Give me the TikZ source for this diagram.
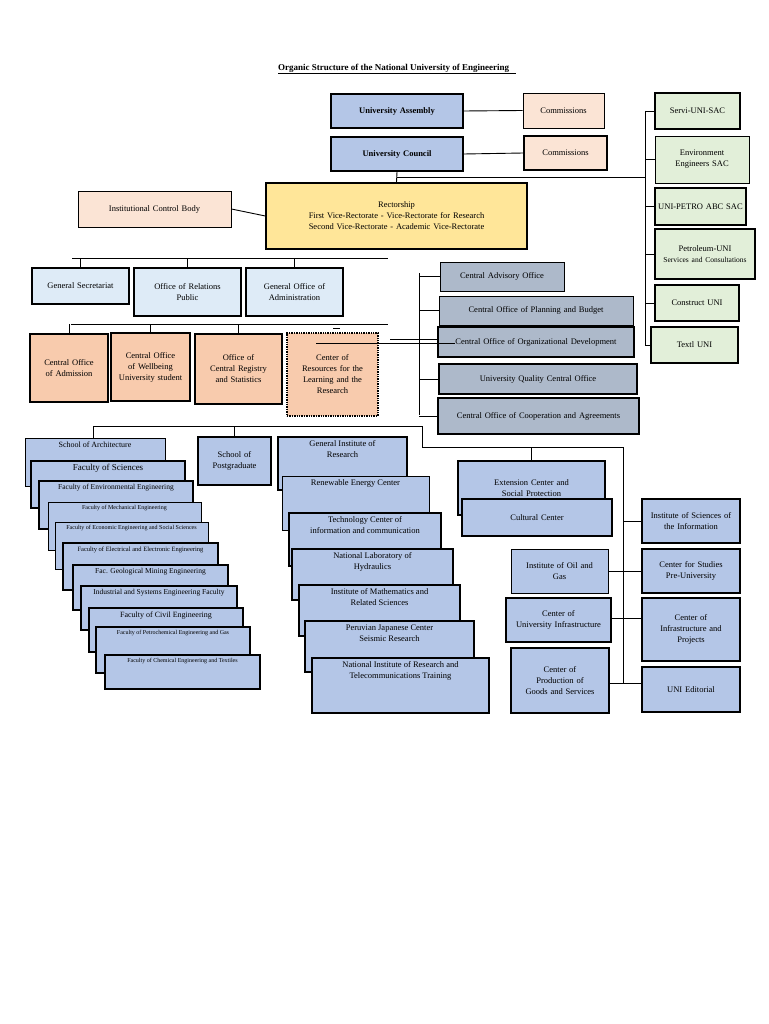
\documentclass[tikz,border=0pt]{standalone}
\usepackage{fontspec}
\setmainfont{Liberation Serif}
\usepackage{xcolor}
\usepackage{tikz}

\definecolor{blueA}{HTML}{B4C6E7}
\definecolor{blueL}{HTML}{DEEBF7}
\definecolor{peach}{HTML}{FBE4D5}
\definecolor{orng}{HTML}{F8CBAD}
\definecolor{yell}{HTML}{FFE699}
\definecolor{grn}{HTML}{E2EFD9}
\definecolor{gry}{HTML}{ADB9CA}

\tikzset{
  box/.style={draw=black,line width=1.4pt,rectangle,inner sep=1pt,align=center,
    font=\fontsize{8.5}{11}\selectfont},
  thin box/.style={line width=0.9pt},
  link/.style={line width=0.9pt},
  small/.style={font=\fontsize{7}{9}\selectfont},
}

% box from pixel corners (x1,y1) to (x2,y2)
\newcommand\ubox[7][]{%
  \pgfmathsetmacro\bw{#5-#3}\pgfmathsetmacro\bh{#6-#4}\pgfmathsetmacro\tw{#5-#3-4}%
  \node[box,#1,minimum width=\bw pt,minimum height=\bh pt,text width=\tw pt]
    (#2) at ({(#3+#5)/2},{(#4+#6)/2}) {#7};}
% stacked box, text near its top edge
\newcommand\stackbox[8][]{%
  \pgfmathsetmacro\bw{#5-#3}\pgfmathsetmacro\bh{#6-#4}%
  \node[box,#1,minimum width=\bw pt,minimum height=\bh pt] (#2) at ({(#3+#5)/2},{(#4+#6)/2}) {};
  \node[anchor=north,inner sep=0pt,align=center,font=\fontsize{#7}{11}\selectfont]
    (#2-t) at ([yshift=-4pt]#2.north) {#8};}

\begin{document}
\begin{tikzpicture}[x=1pt,y=-1pt]
\useasboundingbox (0,0) rectangle (768,1024);

\node[font=\bfseries\fontsize{9}{11}\selectfont] (title) at (397,69)
  {\underline{Organic Structure of the National University of Engineering\ \ \ }};

% top governing bodies
\ubox[fill=blueA,font=\bfseries\fontsize{8.5}{11}\selectfont]{ua}{331}{94}{463}{128}{University Assembly}
\ubox[fill=peach,thin box]{com1}{523}{93}{604}{128}{Commissions}
\ubox[fill=blueA,font=\bfseries\fontsize{8.5}{11}\selectfont]{uc}{331}{137}{463}{171}{University Council}
\ubox[fill=peach]{com2}{524}{136}{607}{170}{Commissions}
\ubox[fill=yell]{rect}{266}{183}{527}{249}{Rectorship\\First Vice-Rectorate - Vice-Rectorate for Research\\Second Vice-Rectorate - Academic Vice-Rectorate}
\ubox[fill=peach,thin box]{icb}{78}{191}{231}{227}{Institutional Control Body}

\draw[link] (ua.east) -- (com1.west);
\draw[link] (uc.east) -- (com2.west);
\draw[link] (uc.south) -- (rect.north);
\draw[link] (icb.east) -- (rect.west);

% companies
\ubox[fill=grn]{servi}{655}{93}{740}{129}{Servi-UNI-SAC}
\ubox[fill=grn,thin box]{envi}{655}{136}{749}{183}{Environment\\Engineers SAC}
\ubox[fill=grn]{petro}{655}{188}{746}{225}{UNI-PETRO ABC SAC}
\ubox[fill=grn]{petuni}{655}{229}{755}{279}{Petroleum-UNI\\{\fontsize{7.5}{9}\selectfont Services and Consultations}}
\ubox[fill=grn]{cons}{655}{285}{739}{321}{Construct UNI}
\ubox[fill=grn]{textl}{651}{327}{738}{363}{Textl UNI}
\coordinate (gtop) at (645,111);
\coordinate (gbot) at (645,345);
\draw[link] (gtop) -- (gbot);
\foreach \n in {servi,envi,petro,petuni,cons,textl}
  \draw[link] (\n.west) -- (\n.west -| gtop);
\coordinate (ucr) at (397,177);
\draw[link] (ucr) -- (ucr -| gtop);

% general offices
\ubox[fill=blueL]{gs}{32}{268}{129}{304}{General Secretariat}
\ubox[fill=blueL]{orp}{134}{268}{241}{316}{Office of Relations\\Public}
\ubox[fill=blueL]{goa}{246}{268}{343}{316}{General Office of\\Administration}
\coordinate (b1w) at (72,258);
\coordinate (b1e) at (388,258);
\draw[link] (b1w) -- (b1e);
\foreach \n in {gs,orp,goa}
  \draw[link] (\n.north) -- (\n.north |- b1w);

% central offices
\ubox[fill=orng]{adm}{30}{334}{108}{402}{Central Office\\of Admission}
\ubox[fill=orng]{well}{111}{333}{190}{401}{Central Office\\of Wellbeing\\University student}
\ubox[fill=orng]{reg}{195}{334}{282}{404}{Office of\\Central Registry\\and Statistics}
\ubox[fill=orng,densely dotted,line width=1.6pt]{res}{287}{333}{378}{416}{Center of\\Resources for the\\Learning and the\\Research}
\coordinate (b2w) at (71,324);
\coordinate (b2e) at (388,324);
\draw[link] (b2w) -- (b2e);
\foreach \n in {adm,well,reg}
  \draw[link] (\n.north) -- (\n.north |- b2w);
\draw[link] (333,328) -- (340,328);

% advisory offices
\ubox[fill=gry,thin box]{cao}{440}{262}{564}{291}{Central Advisory Office}
\ubox[fill=gry,thin box]{cpb}{439}{296}{633}{325}{Central Office of Planning and Budget}
\ubox[fill=gry]{cod}{438}{327}{634}{357}{Central Office of Organizational Development}
\ubox[fill=gry]{uqc}{439}{364}{637}{394}{University Quality Central Office}
\ubox[fill=gry]{coa}{438}{398}{639}{434}{Central Office of Cooperation and Agreements}
\coordinate (atop) at (419,273);
\coordinate (abot) at (419,415);
\draw[link] (atop) -- (abot);
\foreach \n in {cao,cpb,uqc,coa}
  \draw[link] (\n.west |- atop |- \n.west) -- (\n.west -| atop);
\coordinate (rx) at (316,343);
\draw[link] (rx) -- (455,343);
\draw[link] (390,339) -- (cod.west |- 0,339);

% bottom bus
\coordinate (b3w) at (93,426);
\coordinate (b3k) at (422,426);
\coordinate (b3d) at (422,447);
\coordinate (b3e) at (623,447);
\coordinate (b3b) at (623,683);
\draw[link] (b3w) -- (b3k) -- (b3d) -- (b3e) -- (b3b);

% faculties
\stackbox[fill=blueA,thin box]{f1}{25}{438}{165}{486}{8}{School of Architecture}
\stackbox[fill=blueA]{f2}{31}{461}{185}{508}{9}{Faculty of Sciences}
\stackbox[fill=blueA]{f3}{39}{481}{193}{529}{7.5}{Faculty of Environmental Engineering}
\stackbox[fill=blueA,thin box]{f4}{48}{502}{201}{550}{6}{Faculty of Mechanical Engineering}
\stackbox[fill=blueA,thin box]{f5}{55}{522}{208}{569}{6}{Faculty of Economic Engineering and Social Sciences}
\stackbox[fill=blueA]{f6}{63}{543}{218}{590}{6.5}{Faculty of Electrical and Electronic Engineering}
\stackbox[fill=blueA]{f7}{73}{565}{228}{610}{7.5}{Fac. Geological Mining Engineering}
\stackbox[fill=blueA]{f8}{81}{586}{237}{630}{7.5}{Industrial and Systems Engineering Faculty}
\stackbox[fill=blueA]{f9}{89}{608}{243}{652}{8}{Faculty of Civil Engineering}
\stackbox[fill=blueA]{f10}{96}{627}{250}{673}{6}{Faculty of Petrochemical Engineering and Gas}
\stackbox[fill=blueA]{f11}{105}{655}{260}{689}{6}{Faculty of Chemical Engineering and Textiles}
\draw[link] (f1.north -| b3w) -- (b3w);
\ubox[fill=blueA]{pg}{198}{437}{271}{485}{School of\\Postgraduate}
\draw[link] (pg.north) -- (pg.north |- b3w);

% research
\stackbox[fill=blueA]{r1}{278}{437}{407}{490}{8.5}{General Institute of\\Research}
\stackbox[fill=blueA,thin box]{r2}{282}{476}{429}{530}{8.5}{Renewable Energy Center}
\stackbox[fill=blueA]{r3}{289}{513}{441}{566}{8.5}{Technology Center of\\information and communication}
\stackbox[fill=blueA]{r4}{292}{549}{453}{600}{8.5}{National Laboratory of\\Hydraulics}
\stackbox[fill=blueA]{r5}{299}{585}{460}{636}{8.5}{Institute of Mathematics and\\Related Sciences}
\stackbox[fill=blueA]{r6}{305}{621}{474}{672}{8.5}{Peruvian Japanese Center\\Seismic Research}
\stackbox[fill=blueA]{r7}{312}{658}{489}{713}{8.5}{National Institute of Research and\\Telecommunications Training}

% extension and services
\ubox[fill=blueA]{ext}{458}{461}{605}{515}{Extension Center and\\Social Protection\\[6pt]}
\ubox[fill=blueA]{cul}{462}{499}{612}{536}{Cultural Center}
\draw[link] (ext.north) -- (ext.north |- b3e);
\ubox[fill=blueA,thin box]{iog}{511}{549}{608}{593}{Institute of Oil and\\Gas}
\ubox[fill=blueA]{cui}{506}{598}{611}{642}{Center of\\University Infrastructure}
\ubox[fill=blueA]{cpg}{511}{648}{609}{713}{Center of\\Production of\\Goods and Services}
\ubox[fill=blueA]{isi}{642}{499}{740}{543}{Institute of Sciences of\\the Information}
\ubox[fill=blueA]{cpu}{642}{549}{740}{593}{Center for Studies\\Pre-University}
\ubox[fill=blueA]{cip}{642}{598}{740}{661}{Center of\\Infrastructure and\\Projects}
\ubox[fill=blueA]{edi}{642}{667}{740}{712}{UNI Editorial}
\draw[link] (isi.west) -- (isi.west -| b3e);
\draw[link] (iog.east |- cpu.west) -- (cpu.west);
\draw[link] (cui.east |- 0,618) -- (cip.west |- 0,618);
\draw[link] (cpg.east |- b3b) -- (edi.west |- b3b);
\end{tikzpicture}
\end{document}
